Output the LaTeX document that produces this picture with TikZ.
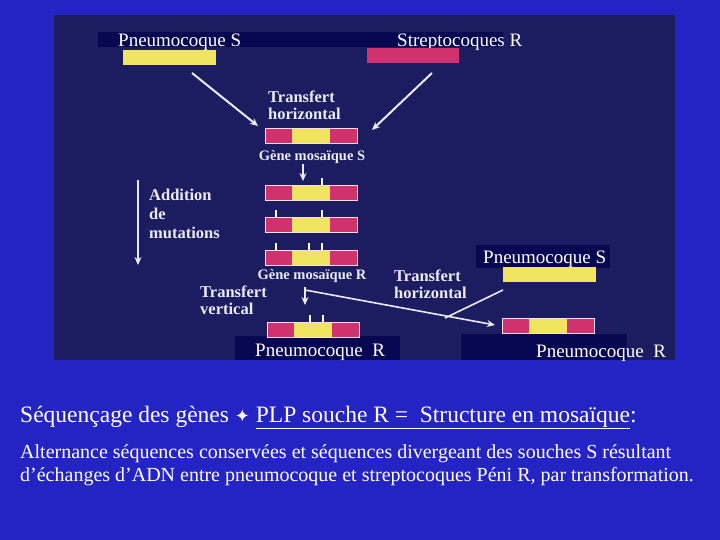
\documentclass[tikz,border=0pt]{standalone}
\usepackage{fontspec}
\usetikzlibrary{arrows.meta}
\setmainfont{Liberation Serif}
\newfontfamily\dejavu{DejaVu Sans}
\definecolor{outerblue}{RGB}{36,36,196}
\definecolor{panel}{RGB}{28,28,96}
\definecolor{lblbox}{RGB}{8,8,82}
\definecolor{yellowbar}{RGB}{240,228,96}
\definecolor{magentabar}{RGB}{208,50,112}
\definecolor{txt}{RGB}{235,235,245}
\begin{document}
\begin{tikzpicture}[x=1pt,y=-1pt,
  lbl/.style={text=white,font=\fontsize{19}{19}\selectfont,inner sep=0pt,anchor=west},
  ilbl/.style={text=txt,font=\bfseries\fontsize{16.5}{17}\selectfont,inner sep=0pt,anchor=north west,align=left},
  slbl/.style={text=txt,font=\bfseries\fontsize{14.5}{15}\selectfont,inner sep=0pt},
  arr/.style={draw=txt,line width=2pt,-{Stealth[length=8pt,width=7pt]}},
  tick/.style={draw=white,line width=1.3pt}]
\fill[outerblue] (0,0) rectangle (720,540);
\useasboundingbox (0,0) rectangle (720,540);
\fill[panel] (54,15) rectangle (675,360);
% label boxes
\fill[lblbox] (98,32) rectangle (503,47);
\fill[lblbox] (476,245) rectangle (610,268);
\fill[lblbox] (235,336) rectangle (400,360);
\fill[lblbox] (461,334) rectangle (627,360);
\node[lbl] (ps) at (118,42) {Pneumocoque S};
\node[lbl] (sr) at (397,42) {Streptocoques R};
\node[lbl] (ps2) at (483,259) {Pneumocoque S};
\node[lbl] (pr1) at (255,352) {Pneumocoque\ \ R};
\node[lbl] (pr2) at (536,353) {Pneumocoque\ \ R};
% bars
\newcommand\mosbar[3]{% x,y,name
  \fill[magentabar] (#1,#2) rectangle ++(27,15);
  \fill[yellowbar] (#1+27,#2) rectangle ++(38,15);
  \fill[magentabar] (#1+65,#2) rectangle ++(27,15);
  \draw[white!85!magentabar,line width=0.6pt] (#1,#2) rectangle ++(92,15);
  \coordinate (#3) at (#1+46,#2+7.5);}
\fill[yellowbar] (123,50) rectangle (216,65); \coordinate (yb1) at (169,57);
\fill[magentabar] (367,48) rectangle (459,63); \coordinate (mb1) at (413,55);
\fill[yellowbar] (503,267) rectangle (596,282); \coordinate (yb2) at (549,274);
\mosbar{265}{128}{b1}
\mosbar{265}{185}{b2}
\mosbar{265}{217}{b3}
\mosbar{265}{250}{b4}
\mosbar{267}{322}{b5}
\mosbar{502}{318}{b6}
% mutations
\draw[tick] (322,185) -- ++(0,-7);
\draw[tick] (276,217) -- ++(0,-7); \draw[tick] (322,217) -- ++(0,-7);
\draw[tick] (276,250) -- ++(0,-7); \draw[tick] (309,250) -- ++(0,-7); \draw[tick] (322,250) -- ++(0,-7);
\draw[tick] (310,322) -- ++(0,-7); \draw[tick] (323,322) -- ++(0,-7);
% texts
\node[ilbl] (th1) at (268,91) {Transfert\\horizontal};
\node[slbl] (gms) at (312,157) {Gène mosaïque S};
\node[slbl] (gmr) at (312,276) {Gène mosaïque R};
\node[ilbl,font=\bfseries\fontsize{16.5}{19}\selectfont] (adm) at (149,189) {Addition\\de\\mutations};
\node[ilbl] (tv) at (200,286) {Transfert\\vertical};
\node[ilbl] (th2) at (394,270) {Transfert\\horizontal};
% arrows
\coordinate (a1s) at (192,73); \coordinate (a1e) at (258,126);
\coordinate (a2s) at (432,73); \coordinate (a2e) at (372,130);
\draw[arr] (a1s) -- (a1e);
\draw[arr] (a2s) -- (a2e);
\coordinate (s1) at (303,164); \coordinate (s1e) at (303,181);
\draw[arr,line width=1.6pt] (s1) -- (s1e);
\coordinate (l1) at (138,180); \coordinate (l1e) at (138,265);
\draw[arr,line width=1.6pt] (l1) -- (l1e);
\coordinate (s2) at (305,287); \coordinate (s2e) at (305,305);
\draw[arr,line width=1.6pt] (s2) -- (s2e);
\coordinate (h1) at (305,290); \coordinate (h1e) at (495,325);
\draw[arr,line width=1.6pt] (h1) -- (h1e);
\coordinate (h2) at (503,290); \coordinate (h2e) at (445,318);
\draw[draw=txt,line width=1.6pt] (h2) -- (h2e);
% bottom text
\node[text=white,font=\fontsize{23.5}{25}\selectfont,inner sep=0pt,anchor=base west] (seq) at (20,422)
 {Séquençage des gènes {\dejavu\fontsize{18}{18}\selectfont ✦} \underline{PLP souche R =\ \ Structure en mosaïque}:};
\node[text=white,font=\fontsize{20}{23}\selectfont,inner sep=0pt,anchor=north west,align=left] (para) at (20,444)
 {Alternance séquences conservées et séquences divergeant des souches S résultant\\d’échanges d’ADN entre pneumocoque et streptocoques Péni R, par transformation.};
\end{tikzpicture}
\end{document}
